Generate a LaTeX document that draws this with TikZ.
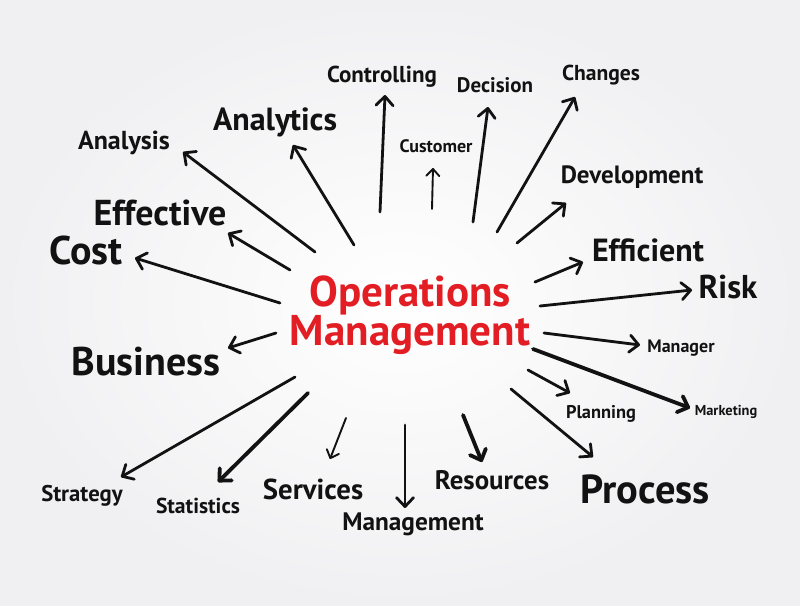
\documentclass[tikz,border=0pt]{standalone}
\usepackage{fontspec}
\setmainfont{PT Sans}
\usetikzlibrary{arrows.meta,positioning}
\definecolor{opred}{RGB}{226,30,36}
\definecolor{ink}{RGB}{18,18,18}
\definecolor{paper}{RGB}{240,240,242}

\begin{document}
\begin{tikzpicture}[x=1pt, y=-1pt,
        word/.style={font=\bfseries\fontsize{#1}{#1}\selectfont, inner sep=0pt, text=ink},
        title/.style={font=\bfseries\fontsize{43}{39}\selectfont, inner sep=0pt, text=opred, align=center},
        arr/.style={draw=ink, line width=2.8pt, line cap=round, -{Straight Barb[length=9pt,width=17pt,round]}},
        thinarr/.style={arr, line width=1.9pt, -{Straight Barb[length=7pt,width=13pt,round]}},
        thickarr/.style={arr, line width=3.8pt}
    ]
        \useasboundingbox (0,0) rectangle (800,605);
        \shade[inner color=white, outer color=paper] (0,0) rectangle (800,605);

        % centre
        \node [title] (ops) at (410,315) {Operations\\Management};

        % words
        \node [word=23] (controlling) at (382,77) {Controlling};
        \node [word=21] (decision) at (495,85) {Decision};
        \node [word=21.6] (changes) at (601,75) {Changes};
        \node [word=26] (analysis) at (124,143) {Analysis};
        \node [word=32] (analytics) at (275,122) {Analytics};
        \node [word=18] (customer) at (436,146) {Customer};
        \node [word=25] (development) at (632,177) {Development};
        \node [word=36] (effective) at (160,213) {Effective};
        \node [word=40] (cost) at (86,250) {Cost};
        \node [word=32] (efficient) at (648,250) {Efficient};
        \node [word=33] (risk) at (728,287) {Risk};
        \node [word=40] (business) at (146,362) {Business};
        \node [word=18] (manager) at (681,348) {Manager};
        \node [word=14.4] (marketing) at (726,412) {Marketing};
        \node [word=18.4] (planning) at (601,414) {Planning};
        \node [word=22.7] (strategy) at (82,496) {Strategy};
        \node [word=21.6] (statistics) at (198,506) {Statistics};
        \node [word=28.8] (services) at (313,489) {Services};
        \node [word=25.3] (management) at (413,524) {Management};
        \node [word=26.8] (resources) at (492,480) {Resources};
        \node [word=40.5] (process) at (645,489) {Process};

        % arrow ends
        \coordinate (controlling-a) at (380,212); \coordinate (controlling-b) at (385,95);
        \coordinate (decision-a) at (473,222);    \coordinate (decision-b) at (488,107);
        \coordinate (changes-a) at (497,232);     \coordinate (changes-b) at (575,97);
        \coordinate (customer-a) at (432,209);    \coordinate (customer-b) at (433,168);
        \coordinate (development-a) at (517,243); \coordinate (development-b) at (566,203);
        \coordinate (efficient-a) at (535,282);   \coordinate (efficient-b) at (583,262);
        \coordinate (risk-a) at (540,306);        \coordinate (risk-b) at (692,290);
        \coordinate (manager-a) at (544,333);     \coordinate (manager-b) at (640,345);
        \coordinate (marketing-a) at (533,349);   \coordinate (marketing-b) at (690,408);
        \coordinate (planning-a) at (528,370);    \coordinate (planning-b) at (570,393);
        \coordinate (process-a) at (511,389);     \coordinate (process-b) at (593,457);
        \coordinate (resources-a) at (463,415);   \coordinate (resources-b) at (482,462);
        \coordinate (management-a) at (405,425);  \coordinate (management-b) at (405,508);
        \coordinate (services-a) at (346,418);    \coordinate (services-b) at (330,459);
        \coordinate (statistics-a) at (308,393);  \coordinate (statistics-b) at (218,482);
        \coordinate (strategy-a) at (295,377);    \coordinate (strategy-b) at (121,477);
        \coordinate (business-a) at (276,333);    \coordinate (business-b) at (228,348);
        \coordinate (cost-a) at (280,303);        \coordinate (cost-b) at (135,258);
        \coordinate (effective-a) at (290,270);   \coordinate (effective-b) at (228,233);
        \coordinate (analysis-a) at (315,252);    \coordinate (analysis-b) at (183,152);
        \coordinate (analytics-a) at (354,245);   \coordinate (analytics-b) at (293,145);

        % arrows
        \foreach \w in {controlling,decision,changes,development,efficient,risk,manager,
                        planning,process,management,strategy,business,cost,effective,analysis,analytics}
            \draw [arr] (\w-a) -- (\w-b);
        \foreach \w in {customer,services}
            \draw [thinarr] (\w-a) -- (\w-b);
        \foreach \w in {marketing,resources,statistics}
            \draw [thickarr] (\w-a) -- (\w-b);
    \end{tikzpicture}
\end{document}
